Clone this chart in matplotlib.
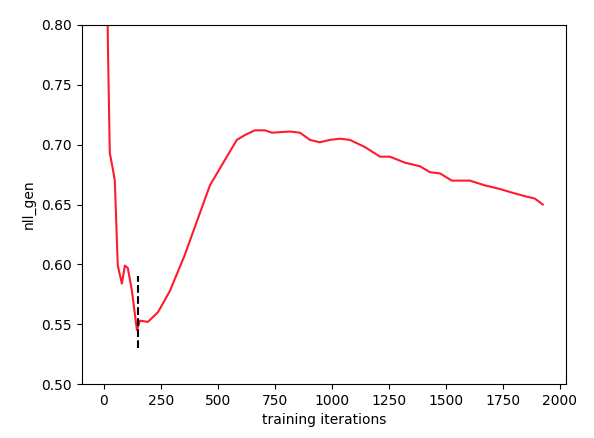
import matplotlib
matplotlib.use("Agg")
import matplotlib.pyplot as plt

iters = [10, 18, 26, 40, 48, 61, 79, 92, 105, 123, 145, 158, 193, 237, 290, 355, 465, 530, 583, 618, 662,
         706, 737, 816, 860, 904, 947, 991, 1035, 1079, 1145, 1211, 1254, 1320, 1386, 1430, 1474, 1526,
         1605, 1671, 1737, 1789, 1846, 1890, 1925]
nll = [0.90, 0.78, 0.693, 0.679, 0.670, 0.599, 0.584, 0.599, 0.597, 0.578, 0.545, 0.553, 0.552, 0.560,
       0.578, 0.608, 0.666, 0.687, 0.704, 0.708, 0.712, 0.712, 0.710, 0.711, 0.710, 0.704, 0.702, 0.704,
       0.705, 0.704, 0.698, 0.690, 0.690, 0.685, 0.682, 0.677, 0.676, 0.670, 0.670, 0.666, 0.663, 0.660,
       0.657, 0.655, 0.650]
best_iter = 150
best_span = [0.53, 0.59]

fig, ax = plt.subplots(figsize=(5.94, 4.38), dpi=100)
ax.plot(iters, nll, color='#ff1a2e', lw=1.5)
ax.plot([best_iter, best_iter], best_span, 'k--', lw=1.5)
ax.set_ylim(0.5, 0.8)
ax.set_xlim(-96, 2027)
ax.set_xlabel('training iterations')
ax.set_ylabel('nll_gen')
fig.subplots_adjust(left=0.138, right=0.953, top=0.943, bottom=0.123)
fig.savefig('out.png')
